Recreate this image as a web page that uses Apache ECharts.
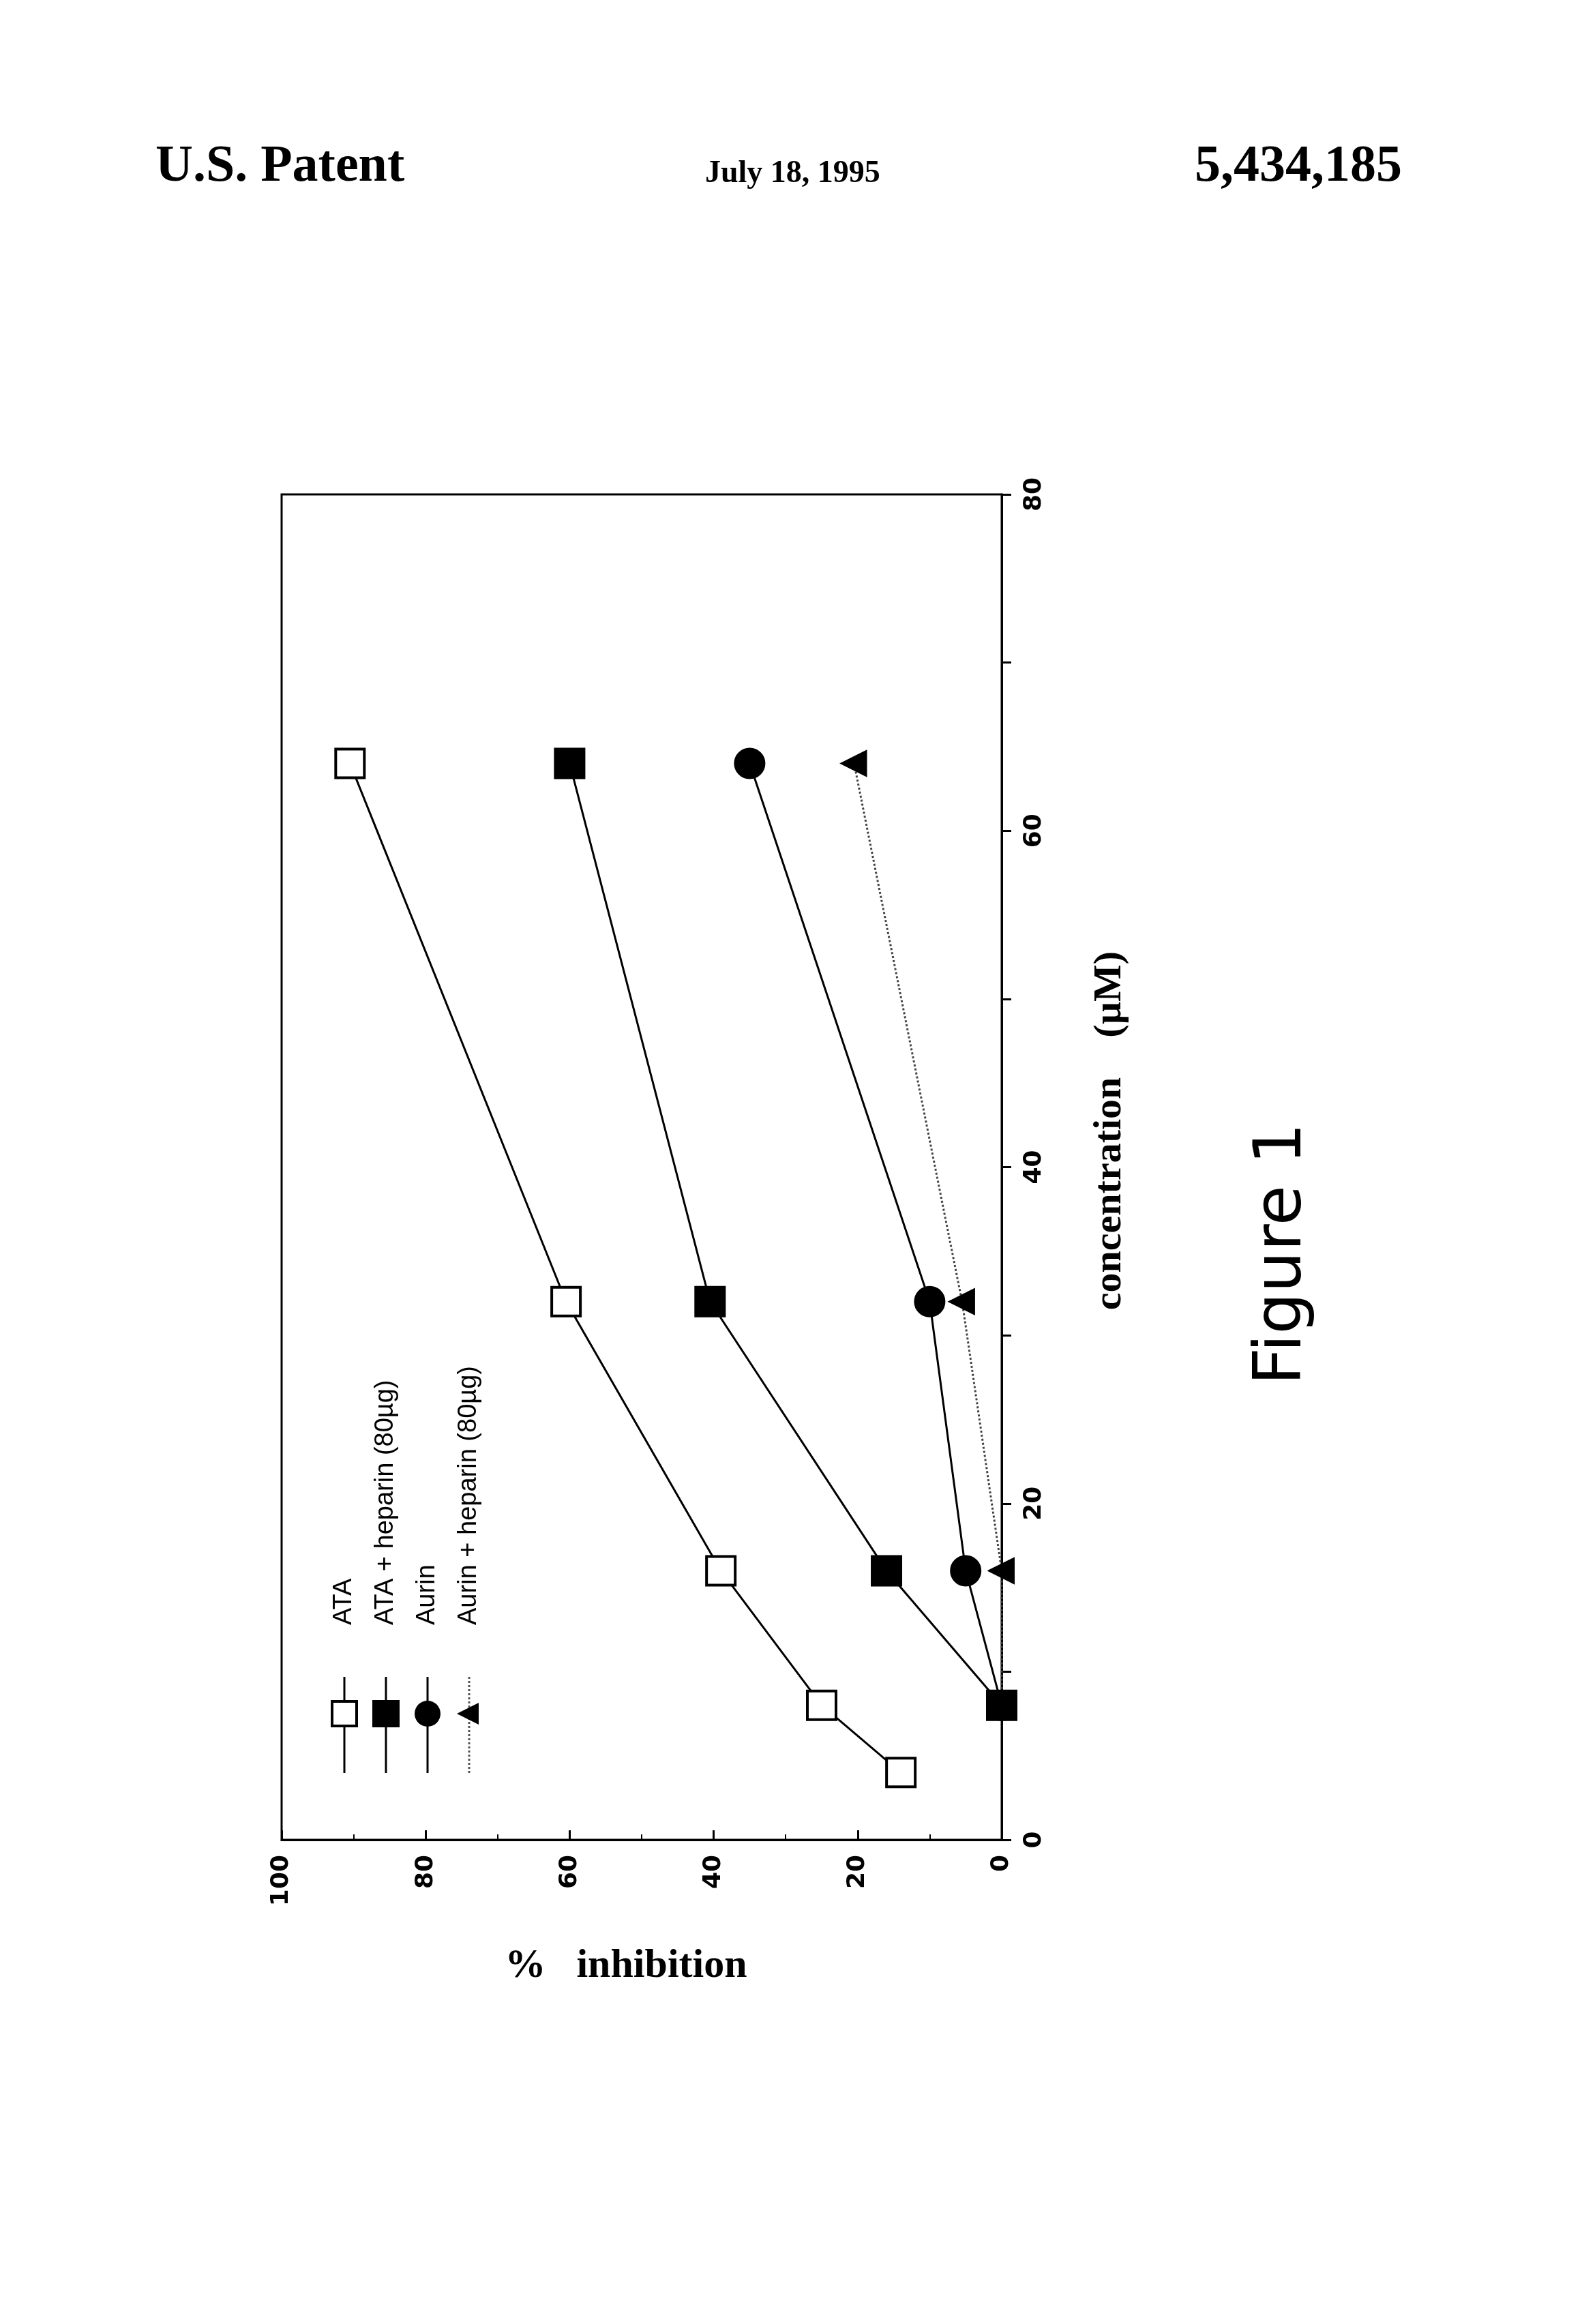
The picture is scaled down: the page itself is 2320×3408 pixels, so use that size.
<!DOCTYPE html>
<html><head><meta charset="utf-8">
<script src="https://cdn.jsdelivr.net/npm/echarts@6/dist/echarts.min.js"></script>
<style>html,body{margin:0;background:#fff}#c{width:2320px;height:3408px}</style>
</head><body><div id="c"></div>
<script>
// concentration (uM) and % inhibition
let ataConc = [4, 8, 16, 32, 64];
let ataInh = [14, 25, 39, 60.5, 90.5];
let ataHepConc = [8, 16, 32, 64];
let ataHepInh = [0, 16, 40.5, 60];
let aurinConc = [8, 16, 32, 64];
let aurinInh = [0, 5, 10, 35];
let aurinHepConc = [8, 16, 32, 64];
let aurinHepInh = [0, 0, 5.5, 20.5];
let names = ['ATA', 'ATA + heparin (80µg)', 'Aurin', 'Aurin + heparin (80µg)'];

function pts(c, v){ return c.map((x, i) => [v[i], x]); }

let myChart = echarts.init(document.getElementById('c'));
let common = {type:'line', symbolSize:42, itemStyle:{color:'#000', borderColor:'#000', borderWidth:4}};
let legendSym = ['rect', 'rect', 'circle', 'triangle'];
let legendX = [505, 566, 627, 688];
let graphics = [
    {type:'text', left:228, top:207, style:{text:'U.S. Patent', font:'bold 76px "Liberation Serif"', fill:'#000'}},
    {type:'text', left:1034, top:232, style:{text:'July 18, 1995', font:'bold 46px "Liberation Serif"', fill:'#000'}},
    {type:'text', right:264, top:207, style:{text:'5,434,185', font:'bold 76px "Liberation Serif"', fill:'#000'}},
    {type:'text', x:1882, y:1839, rotation:Math.PI/2, style:{text:'Figure 1', font:'96px "DejaVu Sans"', fill:'#000', align:'center', verticalAlign:'middle'}},
    {type:'text', x:1628, y:1658, rotation:Math.PI/2, style:{text:'concentration    (µM)', font:'bold 58px "Liberation Serif"', fill:'#000', align:'center', verticalAlign:'middle'}},
    {type:'text', x:918, y:2883, style:{text:'%   inhibition', font:'bold 60px "Liberation Serif"', fill:'#000', align:'center', verticalAlign:'middle'}}
];
names.forEach((n, i) => {
    let x = legendX[i];
    graphics.push({type:'line', shape:{x1:x, y1:2459, x2:x, y2:2600},
        style:{stroke: i === 3 ? '#555' : '#000', lineWidth:3, lineDash: i === 3 ? [3, 3] : null}});
    if (legendSym[i] === 'rect') graphics.push({type:'rect', shape:{x:x-18, y:2495, width:36, height:36}, style:{fill: i === 0 ? '#fff' : '#000', stroke:'#000', lineWidth:4}});
    if (legendSym[i] === 'circle') graphics.push({type:'circle', shape:{cx:x, cy:2513, r:19}, style:{fill:'#000'}});
    if (legendSym[i] === 'triangle') graphics.push({type:'polygon', shape:{points:[[x-18, 2513], [x+14, 2497], [x+14, 2529]]}, style:{fill:'#000'}});
    graphics.push({type:'text', x:x, y:2383, rotation:Math.PI/2, style:{text:n, font:'38px "Liberation Sans"', fill:'#000', align:'left', verticalAlign:'middle'}});
});

myChart.setOption({
    animation:false,
    backgroundColor:'#fff',
    grid:{left:413, top:725, width:1056, height:1973, show:true, borderColor:'#000', borderWidth:3},
    xAxis:{
        type:'value', min:0, max:100, interval:20, inverse:true, position:'bottom',
        axisLine:{lineStyle:{color:'#000', width:3}},
        axisTick:{inside:true, length:14, lineStyle:{color:'#000', width:3}},
        minorTick:{show:true, splitNumber:2, length:8, lineStyle:{color:'#000', width:2}},
        splitLine:{show:false},
        axisLabel:{rotate:90, color:'#000', fontFamily:'DejaVu Sans', fontWeight:'bold', fontSize:36, margin:22}
    },
    yAxis:{
        type:'value', min:0, max:80, interval:20, position:'right',
        axisLine:{lineStyle:{color:'#000', width:3}},
        axisTick:{length:14, lineStyle:{color:'#000', width:3}},
        minorTick:{show:true, splitNumber:2, length:14, lineStyle:{color:'#000', width:3}},
        splitLine:{show:false},
        axisLabel:{rotate:90, color:'#000', fontFamily:'DejaVu Sans', fontWeight:'bold', fontSize:36, margin:30}
    },
    series:[
        Object.assign({}, common, {name:names[0], symbol:'rect', data:pts(ataConc, ataInh),
            itemStyle:{color:'#fff', borderColor:'#000', borderWidth:4}, lineStyle:{color:'#000', width:3}, z:5}),
        Object.assign({}, common, {name:names[1], symbol:'rect', data:pts(ataHepConc, ataHepInh), lineStyle:{color:'#000', width:3}}),
        Object.assign({}, common, {name:names[2], symbol:'circle', data:pts(aurinConc, aurinInh), lineStyle:{color:'#000', width:3}}),
        Object.assign({}, common, {name:names[3], symbol:'triangle', symbolRotate:90, symbolSize:34, data:pts(aurinHepConc, aurinHepInh),
            lineStyle:{color:'#444', width:3, type:'dotted'}})
    ],
    graphic:graphics
});
</script></body></html>
